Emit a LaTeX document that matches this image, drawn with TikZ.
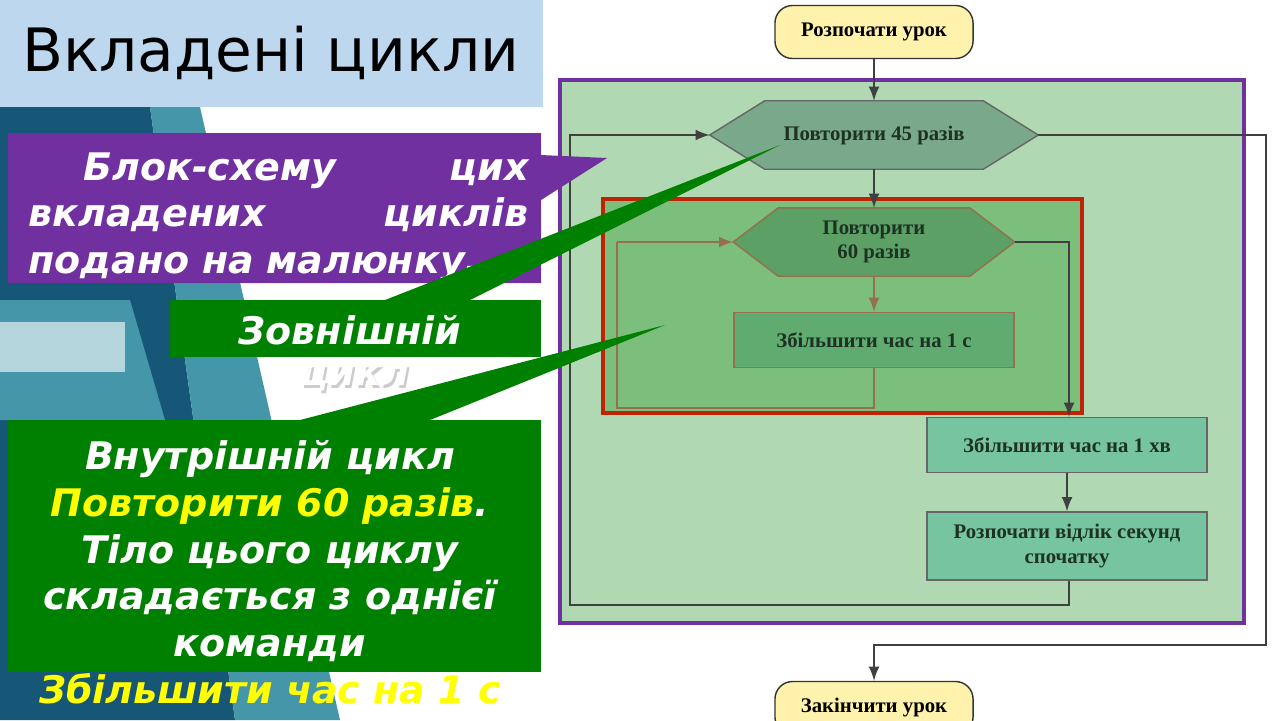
\documentclass[tikz,border=0pt]{standalone}
\usepackage{fontspec}
\setmainfont{DejaVu Sans}
\newfontfamily\bookfont{Liberation Serif}
\usetikzlibrary{positioning}
\usetikzlibrary{arrows}
\usetikzlibrary{calc}
\definecolor{violet}{RGB}{112,48,160}
\definecolor{darkgreen}{RGB}{0,128,0}
\definecolor{titleblue}{RGB}{189,215,238}
\definecolor{outer-inside}{RGB}{176,216,178}
\definecolor{inner-inside}{RGB}{124,190,124}
\definecolor{frame-red}{RGB}{190,35,5}
\definecolor{hex-outer}{RGB}{122,168,138}
\definecolor{hex-inner}{RGB}{92,160,102}
\definecolor{box-inner}{RGB}{96,172,112}
\definecolor{box-outer}{RGB}{118,196,160}
\definecolor{startend}{RGB}{255,242,172}
\definecolor{linebrown}{RGB}{150,110,80}
\definecolor{textyellow}{RGB}{255,255,0}
\definecolor{teal-dark}{RGB}{22,86,118}
\definecolor{teal-light}{RGB}{70,150,170}
\definecolor{booktext}{RGB}{30,50,35}
\begin{document}
\begin{tikzpicture}[x=0.01cm, y=-0.01cm, >=latex,
  term/.style={draw=black!80, rounded corners=5pt, fill=startend, minimum width=1.98cm, minimum height=0.53cm, font=\bookfont\bfseries\fontsize{5.9}{6.5}\selectfont},
  cmd/.style={draw=black!60, fill=#1, minimum width=2.8cm, text=booktext, font=\bookfont\bfseries\fontsize{5.9}{7}\selectfont, align=center},
  hexnode/.style={minimum width=#1, minimum height=0.67cm, text=booktext, font=\bookfont\bfseries\fontsize{5.9}{7}\selectfont, align=center, inner sep=0pt},
  flow/.style={draw=black!75, thin},
  callout/.style={text=white, font=\fontsize{10.8}{13.3}\selectfont\bfseries\itshape}]
\useasboundingbox (0,0) rectangle (1280,720);
\fill[white] (0,0) rectangle (1280,720);

% slide decoration on the left
\fill[teal-dark] (0,107) -- (150,107) -- (235,720) -- (0,720) -- cycle;
\fill[teal-light] (0,300) -- (130,300) -- (165,420) -- (0,420) -- cycle;
\fill[white, opacity=0.6] (0,322) rectangle (125,372);
\fill[teal-light] (150,107) -- (200,107) -- (340,720) -- (235,720) -- cycle;

% title
\fill[titleblue] (0,0) rectangle (543,107);
\node (title) at (271,53) {\fontsize{17}{20}\selectfont Вкладені цикли};

% outer loop frame
\draw[violet, fill=outer-inside, line width=1.4pt] (560,80) rectangle (1244,623);
% inner loop frame
\draw[frame-red, fill=inner-inside, line width=1.4pt] (603,199) rectangle (1082,413);

\node[term] (start) at (874,32) {Розпочати урок};
\node[term] (end) at (874,708) {Закінчити урок};

\node[hexnode=3.27cm] (h45) at (874,135) {Повторити 45 разів};
\draw[black!60, fill=hex-outer] (h45.west) -- ($(h45.north west)+(55,0)$) -- ($(h45.north east)+(-55,0)$) -- (h45.east) -- ($(h45.south east)+(-55,0)$) -- ($(h45.south west)+(55,0)$) -- cycle;
\node[hexnode=3.27cm] at (h45) {Повторити 45 разів};

\node[hexnode=2.8cm] (h60) at (874,242) {Повторити\\60 разів};
\draw[linebrown, fill=hex-inner] (h60.west) -- ($(h60.north west)+(45,0)$) -- ($(h60.north east)+(-45,0)$) -- (h60.east) -- ($(h60.south east)+(-45,0)$) -- ($(h60.south west)+(45,0)$) -- cycle;
\node[hexnode=2.8cm] at (h60) {Повторити\\60 разів};

\node[cmd=box-inner, draw=linebrown, minimum height=0.55cm] (sec) at (874,340) {Збільшити час на 1 с};
\node[cmd=box-outer, minimum height=0.55cm] (min) at (1067,445) {Збільшити час на 1 хв};
\node[cmd=box-outer, minimum height=0.68cm] (reset) at (1067,546) {Розпочати відлік секунд\\спочатку};

\coordinate (c1) at (874,408);
\coordinate (c2) at (617,408);
\coordinate (c3) at (617,242);
\coordinate (c4) at (1069,242);
\coordinate (c5) at (1069,605);
\coordinate (c6) at (570,605);
\coordinate (c7) at (570,135);
\coordinate (c8) at (1266,135);
\coordinate (c9) at (1266,645);
\coordinate (c10) at (874,645);

\draw[flow,->] (start) -- (h45);
\draw[flow,->] (h45) -- (h60);
\draw[linebrown,->] (h60) -- (sec);
\draw[linebrown] (sec.south -| c1) -- (c1) -- (c2) -- (c3);
\draw[linebrown,->] (c3) -- (h60.west);
\draw[flow,->] (h60.east) -- (c4) -- (min.north -| c4);
\draw[flow,->] (min) -- (reset);
\draw[flow,->] (reset.south -| c5) -- (c5) -- (c6) -- (c7) -- (h45.west);
\draw[flow,->] (h45.east) -- (c8) -- (c9) -- (c10) -- (end);

% callouts
\fill[violet] (8,133) -- (541,133) -- (541,155) -- (607,158) -- (541,200) -- (541,283) -- (8,283) -- cycle;
\node[callout, anchor=north west, text width=5.0cm, align=left] (block) at (16,140)
  {\hspace*{0.55cm}Блок-схему \hfill цих\\вкладених \hfill циклів\\подано на малюнку.};

\fill[darkgreen] (385,300) -- (780,145) -- (470,300) -- cycle;
\fill[darkgreen] (170,300) rectangle (541,357);
\node[callout] (outer) at (350,330) {Зовнішній};
\node[callout, text=gray!40] at (357,381) {цикл};
\node[callout] at (355,378) {цикл};

\fill[darkgreen] (300,420) -- (665,325) -- (430,420) -- cycle;
\fill[darkgreen] (8,420) rectangle (541,672);
\node[callout, align=center, anchor=north] (inner) at (270,428)
  {Внутрішній цикл\\
   \textcolor{textyellow}{Повторити 60 разів}.\\
   Тіло цього циклу\\
   складається з однієї\\
   команди\\
   \textcolor{textyellow}{Збільшити час на 1 с}};
\end{tikzpicture}
\end{document}
